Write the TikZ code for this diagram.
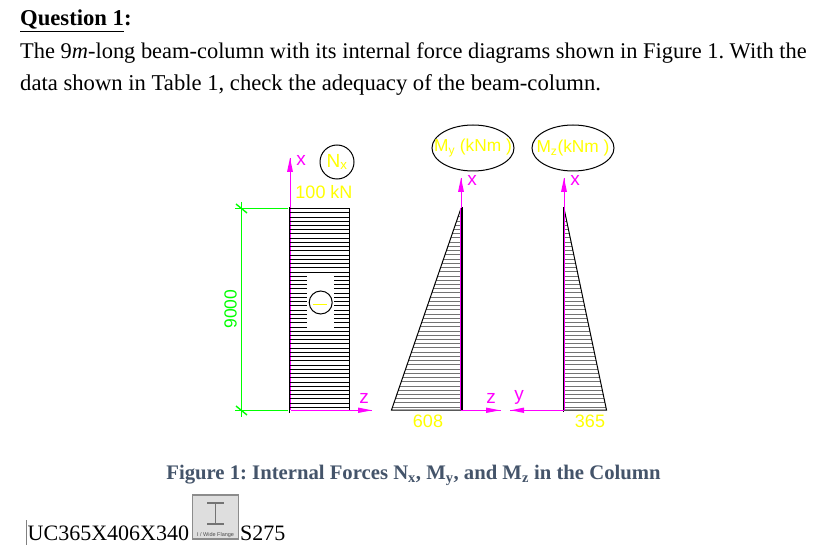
\documentclass[tikz,border=0pt]{standalone}
\usepackage{fontspec}
\usetikzlibrary{shapes.geometric}
\setmainfont{Liberation Serif}
\setsansfont{Liberation Sans}
\definecolor{mag}{HTML}{FF00FF}
\definecolor{grn}{HTML}{00FF00}
\definecolor{yel}{HTML}{FFFF00}
\definecolor{capc}{HTML}{44546A}
\begin{document}
\frenchspacing
\begin{tikzpicture}[x=1pt,y=-1pt,
  para/.style={anchor=base west,inner sep=0,font=\fontsize{22.65}{26}\selectfont},
  cad/.style={inner sep=0,font=\sffamily\fontsize{#1}{#1}\selectfont},
  cad/.default=17,
  yellowtext/.style={cad=#1,text=yel},
  magtext/.style={cad=19,text=mag},
  magarrow/.style={draw=mag,line width=1pt},
  maghead/.style={fill=mag,draw=none},
  outline/.style={draw=black,line width=1pt},
  hatch/.style={draw=black,line width=0.85pt},
  greyhatch/.style={draw=black!55,line width=0.9pt},
  dim/.style={draw=grn,line width=1pt}]
\useasboundingbox (0,0) rectangle (827,548);
\fill[white] (0,0) rectangle (827,548);
% text
\node[para,font=\bfseries\fontsize{22.65}{26}\selectfont] (q) at (20,26) {\underline{Question 1}:};
\node[para,font=\fontsize{22.43}{26}\selectfont] (l1) at (20,58.5) {The 9\textit{m}-long beam-column with its internal force diagrams shown in Figure 1. With the};
\node[para] (l2) at (20,91) {data shown in Table 1, check the adequacy of the beam-column.};
\node[anchor=base,inner sep=0,text=capc,font=\bfseries\fontsize{20.7}{24}\selectfont] (cap) at (413.5,479.5)
  {Figure 1: Internal Forces N\textsubscript{x}, M\textsubscript{y}, and M\textsubscript{z} in the Column};
% Nx diagram
\draw[draw=black,line width=1pt] (289,207.5) -- (289,412.5);
\draw[draw=mag,line width=1.2pt] (290.2,208) -- (290.2,410);
\foreach \i in {0,...,15} \draw[hatch] (289.5,{208.5+\i*4.23}) -- (349.5,{208.5+\i*4.23});
\foreach \i in {16,...,28} {
  \draw[hatch] (289.5,{208.5+\i*4.23}) -- (306.7,{208.5+\i*4.23});
  \draw[hatch] (334,{208.5+\i*4.23}) -- (349.5,{208.5+\i*4.23});}
\foreach \i in {29,...,47} \draw[hatch] (289.5,{208.5+\i*4.23}) -- (349.5,{208.5+\i*4.23});
\draw[outline] (349.5,208.5) -- (349.5,410);
\node[circle,outline,minimum size=23pt,inner sep=0] (sec) at (320.7,302.5) {};
\draw[draw=yel,line width=1pt] (312.7,304) -- (327.3,304);
\coordinate (nxtop) at (290,208);
\coordinate (nxtip) at (290,158);
\draw[magarrow] (nxtop) -- (nxtip);
\fill[maghead] (290,158) -- (293,172) -- (287,172) -- cycle;
\node[magtext] (nxx) at (301,160) {x};
\node[circle,outline,minimum size=34pt,inner sep=0,text=yel,font=\sffamily\fontsize{19}{19}\selectfont] (nxc) at (337,162) {N\textsubscript{x}};
\node[yellowtext=18] (nxv) at (324,192) {100 kN};
\coordinate (nxb) at (291,410.3);
\coordinate (nxz) at (372,410.3);
\draw[magarrow] (nxb) -- (nxz);
\fill[maghead] (372,410.3) -- (358,407.5) -- (358,413) -- cycle;
\node[magtext] (nxzl) at (364,398) {z};
% dimension
\coordinate (d1) at (241.3,208.5);
\coordinate (d2) at (241.3,410.3);
\draw[dim] (d1) -- (d2);
\draw[dim] (235,208.5) -- (288,208.5);
\draw[dim] (235,410.3) -- (288,410.3);
\draw[dim,line width=1.4pt] (236,204) -- (247,213);
\draw[dim,line width=1.4pt] (236,406) -- (247,415);
\draw[dim] (241.3,202) -- (241.3,208.5);
\draw[dim] (241.3,410.3) -- (241.3,417);
\node[rotate=90,text=grn,inner sep=0,font=\sffamily\fontsize{17.5}{17}\selectfont] (dl) at (230.7,309) {9000};
% My diagram
\foreach \i in {1,...,47} \draw[greyhatch] ({461-69.5*\i*4.23/202},{208.3+\i*4.23}) -- (461,{208.3+\i*4.23});
\draw[outline] (461,208.3) -- (391.5,410) -- (461,410);
\draw[draw=black,line width=1.8pt] (462,207) -- (462,410.5);
\coordinate (mytop) at (461,208);
\coordinate (mytip) at (461,178);
\draw[draw=mag,line width=1pt] (460.8,208) -- (460.8,410);
\draw[magarrow] (mytop) -- (mytip);
\fill[maghead] (461,178) -- (464,192) -- (458,192) -- cycle;
\node[magtext] (myx) at (472,180) {x};
\node[ellipse,outline,minimum width=82pt,minimum height=46pt,inner sep=0] (myc) at (473,148) {};
\node[inner sep=0,text=yel,font=\sffamily\fontsize{17.3}{18}\selectfont] (myl) at (473,148) {M\textsubscript{y} (kNm )};
\coordinate (myb) at (461,410.3);
\coordinate (myz) at (501,410.3);
\draw[magarrow] (myb) -- (myz);
\fill[maghead] (486,407.5) -- (500,410.3) -- (486,413) -- cycle;
\node[magtext] (myzl) at (491,398) {z};
\node[yellowtext=18] (myv) at (428,421) {608};
% Mz diagram
\foreach \i in {1,...,47} \draw[greyhatch] (564,{208.3+\i*4.23}) -- ({564+42.5*\i*4.23/202},{208.3+\i*4.23});
\draw[outline] (564,208.3) -- (606.5,410) -- (564,410);
\draw[draw=black,line width=1pt] (563,207) -- (563,412);
\draw[draw=mag,line width=1pt] (564,208) -- (564,410);
\coordinate (mztop) at (564,208);
\coordinate (mztip) at (564,178);
\draw[magarrow] (mztop) -- (mztip);
\fill[maghead] (564,178) -- (567,192) -- (561,192) -- cycle;
\node[magtext] (mzx) at (575,180) {x};
\node[ellipse,outline,minimum width=82pt,minimum height=46pt,inner sep=0] (mzc) at (573,148) {};
\node[inner sep=0,text=yel,font=\sffamily\fontsize{17.3}{18}\selectfont] (mzl) at (573,148) {M\textsubscript{z}(kNm )};
\coordinate (mzb) at (564,410.3);
\coordinate (mzy) at (510,410.3);
\draw[magarrow] (mzb) -- (mzy);
\fill[maghead] (511,410.3) -- (524,407.5) -- (524,413) -- cycle;
\node[magtext] (mzyl) at (519,397) {y};
\node[yellowtext=18] (mzv) at (590,421) {365};
% bottom line
\draw[draw=black!50,line width=0.7pt] (26.5,520) -- (26.5,545);
\node[anchor=base west,inner sep=0,font=\fontsize{22}{24}\selectfont] (uc) at (27.5,540) {UC365X406X340};
\node[draw=black!45,fill=black!13,line width=1.4pt,minimum width=46pt,minimum height=44pt,inner sep=0] (ico) at (215.5,517) {};
\draw[draw=black!55,line width=1.6pt] (207,503) -- (224,503) (215.5,503) -- (215.5,524) (207,524) -- (224,524);
\node[inner sep=0,text=black!70,font=\sffamily\fontsize{5.5}{5}\selectfont] (icl) at (215.5,535) {I / Wide Flange};
\node[anchor=base west,inner sep=0,font=\fontsize{22}{24}\selectfont] (s) at (240,540) {S275};
\end{tikzpicture}
\end{document}
